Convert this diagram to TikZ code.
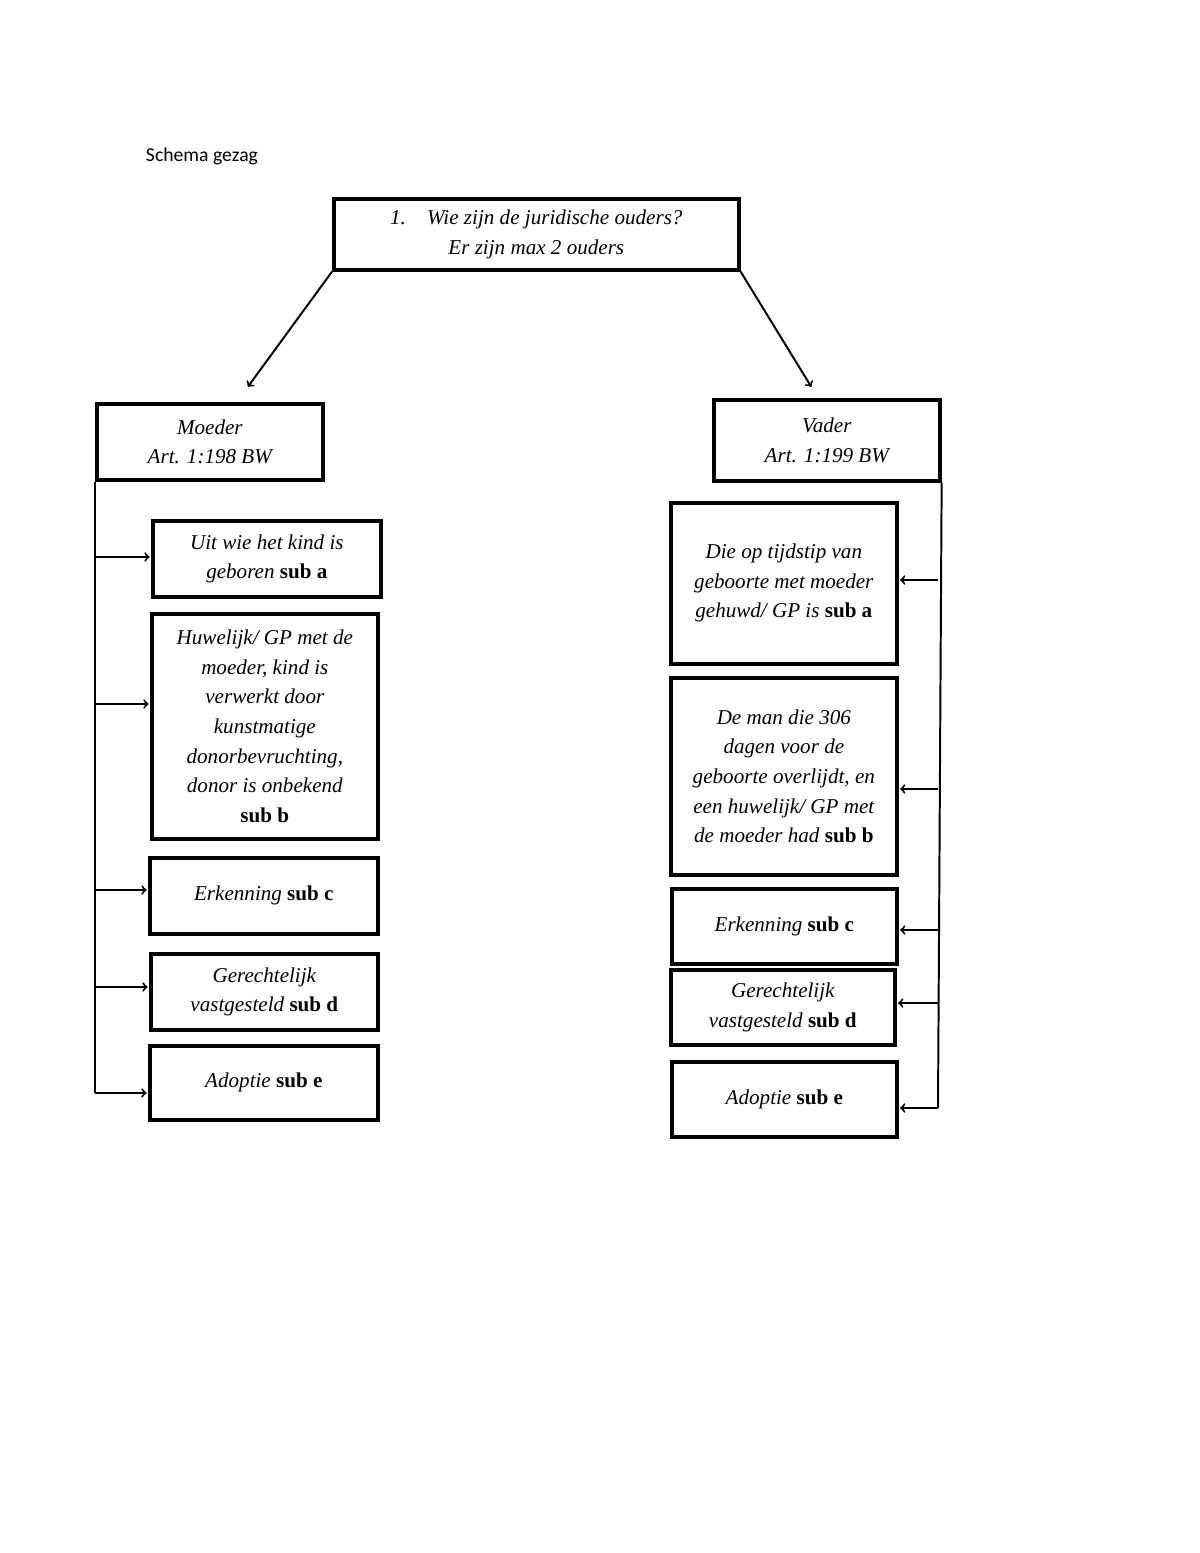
\documentclass[tikz,border=0pt]{standalone}
\usepackage{fontspec}
\setmainfont{Liberation Serif}
\newfontfamily\titlefont{Carlito}
\usetikzlibrary{positioning,arrows}
\tikzstyle{box}=[rectangle, draw=black, line width=2.6pt, anchor=north west, align=center, inner sep=2pt, font=\fontsize{15}{21}\selectfont\itshape]
\begin{document}
\begin{tikzpicture}[
        x=0.025cm, y=-0.025cm,
        line/.style={->, >=to, line width=1.4pt, shorten >=1pt},
      ]
      \useasboundingbox (0,0) rectangle (1200,1553);
      \node (Title) [anchor=west, font=\titlefont\fontsize{14}{17}\selectfont] at (141,156) {Schema gezag};
      \node (Ouders) [box, minimum width=405*0.025cm, minimum height=71*0.025cm] at (332,197)
            {1.\quad Wie zijn de juridische ouders?\\ Er zijn max 2 ouders};
      \node (Moeder) [box, minimum width=226*0.025cm, minimum height=76*0.025cm] at (95,402)
            {Moeder\\ Art. 1:198 BW};
      \node (Vader) [box, minimum width=226*0.025cm, minimum height=81*0.025cm] at (712,398)
            {Vader\\ Art. 1:199 BW};
      % moeder
      \node (Ma) [box, minimum width=228*0.025cm, minimum height=76*0.025cm] at (151,519)
            {Uit wie het kind is\\ geboren \textup{\textbf{sub a}}};
      \node (Mb) [box, minimum width=226*0.025cm, minimum height=225*0.025cm] at (150,612)
            {Huwelijk/ GP met de\\ moeder, kind is\\ verwerkt door\\ kunstmatige\\ donorbevruchting,\\ donor is onbekend\\ \textup{\textbf{sub b}}};
      \node (Mc) [box, minimum width=228*0.025cm, minimum height=76*0.025cm] at (148,856)
            {Erkenning \textup{\textbf{sub c}}};
      \node (Md) [box, minimum width=227*0.025cm, minimum height=76*0.025cm] at (149,952)
            {Gerechtelijk\\ vastgesteld \textup{\textbf{sub d}}};
      \node (Me) [box, minimum width=228*0.025cm, minimum height=74*0.025cm] at (148,1044)
            {Adoptie \textup{\textbf{sub e}}};
      % vader
      \node (Va) [box, minimum width=226*0.025cm, minimum height=161*0.025cm] at (669,501)
            {Die op tijdstip van\\ geboorte met moeder\\ gehuwd/ GP is \textup{\textbf{sub a}}};
      \node (Vb) [box, minimum width=226*0.025cm, minimum height=197*0.025cm] at (669,676)
            {De man die 306\\ dagen voor de\\ geboorte overlijdt, en\\ een huwelijk/ GP met\\ de moeder had \textup{\textbf{sub b}}};
      \node (Vc) [box, minimum width=225*0.025cm, minimum height=75*0.025cm] at (670,887)
            {Erkenning \textup{\textbf{sub c}}};
      \node (Vd) [box, minimum width=224*0.025cm, minimum height=75*0.025cm] at (669,968)
            {Gerechtelijk\\ vastgesteld \textup{\textbf{sub d}}};
      \node (Ve) [box, minimum width=225*0.025cm, minimum height=75*0.025cm] at (670,1060)
            {Adoptie \textup{\textbf{sub e}}};
      % connectors
      \coordinate (MoederTip) at (247,388);
      \coordinate (VaderTip) at (812,388);
      \draw [line] (Ouders.south west) -- (MoederTip);
      \draw [line] (Ouders.south east) -- (VaderTip);
      \draw [line width=1.4pt] (Moeder.south west) -- (95,1093);
      \foreach \n/\y in {Ma/557, Mb/704, Mc/890, Md/987, Me/1093}
        \draw [line] (95,\y) -- (\n.west |- 0,\y);
      \draw [line width=1.4pt] (Vader.south east) -- (938,1108);
      \foreach \n/\y in {Va/580, Vb/789, Vc/930, Vd/1003, Ve/1108}
        \draw [line] (938,\y) -- (\n.east |- 0,\y);
    \end{tikzpicture}
\end{document}
